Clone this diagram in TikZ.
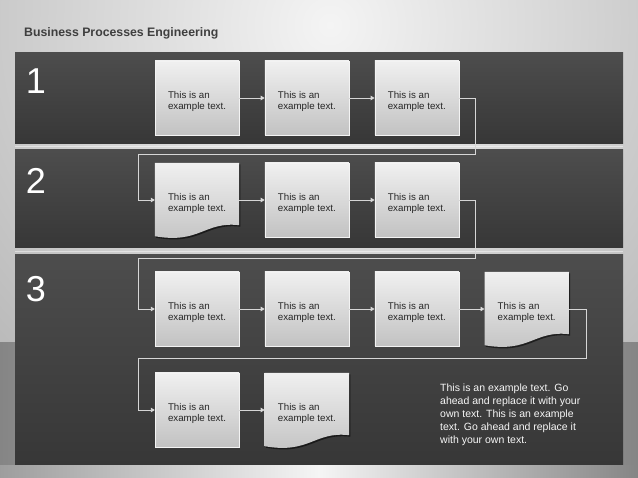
\documentclass[tikz,border=0pt]{standalone}
\usepackage{fontspec}
\setmainfont{Liberation Sans}
\usetikzlibrary{arrows.meta, positioning, shadows, calc}

\pgfdeclarelayer{bg}
\pgfdeclarelayer{docs}
\pgfsetlayers{bg,docs,main}

\definecolor{bgspot}{HTML}{F4F4F4}
\definecolor{bgedge}{HTML}{A6A6A6}
\definecolor{bandedge}{HTML}{858585}
\definecolor{bandmid}{HTML}{C4C4C4}
\definecolor{paneltop}{HTML}{4D4D4D}
\definecolor{panelbot}{HTML}{373737}
\definecolor{boxtop}{HTML}{F0F0F0}
\definecolor{boxbot}{HTML}{C2C2C2}
\definecolor{boxtext}{HTML}{262626}
\definecolor{flowline}{HTML}{D6D6D6}
\definecolor{titletext}{HTML}{3F3F3F}

% sheet with a wavy lower edge, drawn behind the text of node #1
\newcommand\docsheet[1]{%
        \path[sheet] (#1.north west) -- (#1.north east) -- ($(#1.south east)+(0,-12)$)
                .. controls ($(#1.south east)+(-35,-16)$) and ($(#1.south west)+(45,7)$) .. ($(#1.south west)+(0,-1)$) -- cycle;}

\begin{document}
\begin{tikzpicture}[x=1pt, y=-1pt, node distance=25.5pt,
        panel/.style={top color=paneltop, bottom color=panelbot},
        num/.style={text=white, font=\fontsize{36}{36}\selectfont},
        card/.style={minimum width=84pt, minimum height=74pt, inner sep=0pt, align=left,
                text=boxtext, font=\fontsize{9.75}{11.5}\selectfont,
                execute at begin node={\rule{0pt}{25.5pt}}},
        box/.style={card, top color=boxtop, bottom color=boxbot, draw=white!80!boxbot, line width=0.4pt,
                drop shadow={opacity=0.55, fill=black, shadow xshift=1.2pt, shadow yshift=-1.5pt}},
        docbox/.style={card},
        sheet/.style={top color=boxtop, bottom color=boxbot,
                drop shadow={opacity=0.55, fill=black, shadow xshift=1.2pt, shadow yshift=-1.5pt}},
        flow/.style={draw=flowline, line width=0.9pt, -{Triangle[length=4pt, width=4.5pt, fill=white]}}]

        \useasboundingbox (0,0) rectangle (638,478);

        \begin{pgfonlayer}{bg}
                \begin{scope}
                        \clip (0,0) rectangle (638,343);
                        \shade[inner color=bgspot, outer color=bgedge] (330,25) circle[radius=620pt];
                \end{scope}
                \shade[left color=bandedge, right color=bandedge, middle color=bandmid] (0,343) rectangle (638,478);
                \shade[left color=bandedge!80!white, right color=bandedge, middle color=white!92!gray] (0,466) rectangle (638,478);

                \shade[panel] (15,53) rectangle (623,144);
                \shade[panel] (15,150) rectangle (623,248);
                \shade[panel] (15,255) rectangle (623,465);
                \draw[white, opacity=0.45, line width=1.2pt] (15,146.5) -- (623,146.5);
                \draw[white, opacity=0.45, line width=1.2pt] (15,251.5) -- (623,251.5);
        \end{pgfonlayer}

        \node[anchor=base west, inner sep=0pt, text=titletext, font=\bfseries\fontsize{12.3}{14}\selectfont] (title) at (24,37) {Business Processes Engineering};

        \node[num] (n1) at (36,81) {1};
        \node[num] (n2) at (36,181) {2};
        \node[num] (n3) at (36,289) {3};

        % row 1
        \node[box] (a1) at (197,98) {This is an\\example text.};
        \node[box, right=of a1] (a2) {This is an\\example text.};
        \node[box, right=of a2] (a3) {This is an\\example text.};

        % row 2
        \node[docbox] (b1) at (197,200) {This is an\\example text.};
        \node[box, right=of b1] (b2) {This is an\\example text.};
        \node[box, right=of b2] (b3) {This is an\\example text.};

        % row 3
        \node[box] (c1) at (197,309) {This is an\\example text.};
        \node[box, right=of c1] (c2) {This is an\\example text.};
        \node[box, right=of c2] (c3) {This is an\\example text.};
        \node[docbox, right=of c3] (c4) {This is an\\example text.};

        % row 4
        \node[box] (d1) at (197,410) {This is an\\example text.};
        \node[docbox, right=of d1] (d2) {This is an\\example text.};

        \begin{pgfonlayer}{docs}
                \docsheet{b1}
                \docsheet{c4}
                \docsheet{d2}
        \end{pgfonlayer}

        \node[anchor=north west, inner sep=0pt, align=left, text=white!94!gray, font=\fontsize{10.5}{12.8}\selectfont] (note) at (440,384)
                {This is an example text. Go\\ahead and replace it with your\\own text. This is an example\\text. Go ahead and replace it\\with your own text.};

        \coordinate (r1) at (475,154);
        \coordinate (l1) at (138,154);
        \coordinate (r2) at (475,258);
        \coordinate (l2) at (138,258);
        \coordinate (r3) at (586,358);
        \coordinate (l3) at (138,358);

        \draw[flow] (a1.east) -- (a2.west);
        \draw[flow] (a2.east) -- (a3.west);
        \draw[flow] (a3.east) -| (r1) -- (l1) |- (b1.west);
        \draw[flow] (b1.east) -- (b2.west);
        \draw[flow] (b2.east) -- (b3.west);
        \draw[flow] (b3.east) -| (r2) -- (l2) |- (c1.west);
        \draw[flow] (c1.east) -- (c2.west);
        \draw[flow] (c2.east) -- (c3.west);
        \draw[flow] (c3.east) -- (c4.west);
        \draw[flow] (c4.east) -| (r3) -- (l3) |- (d1.west);
        \draw[flow] (d1.east) -- (d2.west);
\end{tikzpicture}
\end{document}
